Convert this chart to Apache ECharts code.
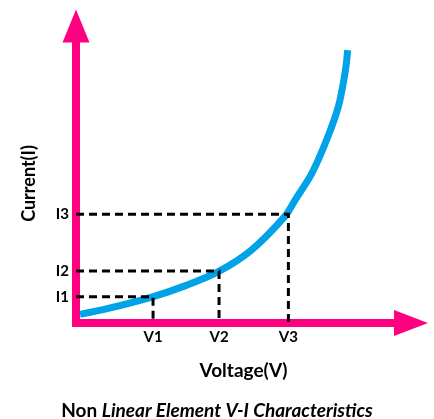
<!DOCTYPE html>
<html>
<head>
<meta charset="utf-8">
<script src="https://cdn.jsdelivr.net/npm/echarts@6/dist/echarts.min.js"></script>
<style>
  html, body { margin: 0; padding: 0; background: #fff; }
  #chart { width: 434px; height: 419px; }
</style>
</head>
<body>
<div id="chart"></div>
<script>
// V-I 曲线（读图估计值）
const voltage = [0.12, 0.96, 2.31, 3.25, 4.25, 5.24, 6.24, 6.54, 7.04, 7.48, 7.83, 8.03, 8.11];
const current = [0.29, 0.49, 0.89, 1.25, 1.73, 2.46, 3.60, 4.14, 5.04, 6.16, 7.28, 8.41, 9.19];

// 标注点
const markVoltage = [2.30, 4.27, 6.34];
const markCurrent = [0.88, 1.75, 3.66];
const voltageLabels = ['V1', 'V2', 'V3'];
const currentLabels = ['I1', 'I2', 'I3'];

const pink = '#ff0080';
const blue = '#00a2e8';
const font = 'Lato';

const chart = echarts.init(document.getElementById('chart'));

const curveData = voltage.map((v, i) => [v, current[i]]);

// 每个标注点一条虚线：从Y轴到点，再到X轴
const dashSeries = markVoltage.map((v, i) => ({
    type: 'line',
    data: [[0, markCurrent[i]], [v, markCurrent[i]], [v, 0]],
    symbol: 'none',
    silent: true,
    lineStyle: { color: '#000', width: 3, type: [8, 5], join: 'miter' }
}));

const option = {
    animation: false,
    grid: { left: 76, right: 23, top: 26, bottom: 96, outerBoundsMode: 'none' },
    title: {
        text: '{n|Non }{i|Linear Element V-I Characteristics}',
        left: 'center',
        top: 396,
        textStyle: {
            rich: {
                n: { fontFamily: font, fontWeight: 'bold', fontSize: 19, color: '#000' },
                i: { fontFamily: font, fontWeight: 'bold', fontStyle: 'italic', fontSize: 19, color: '#000' }
            }
        }
    },
    xAxis: {
        type: 'value',
        min: 0,
        max: 10,
        z: 3,
        name: 'Voltage(V)',
        nameLocation: 'middle',
        nameGap: 38,
        nameTextStyle: { fontFamily: font, fontWeight: 'bold', fontSize: 19, color: '#000' },
        splitLine: { show: false },
        axisTick: { show: false },
        axisLine: {
            show: true,
            symbol: ['none', 'triangle'],
            symbolSize: [26, 34],
            lineStyle: { color: pink, width: 8, cap: 'square' }
        },
        axisLabel: {
            customValues: markVoltage,
            margin: 7,
            fontFamily: font,
            fontWeight: 'bold',
            fontSize: 15,
            color: '#000',
            formatter: v => voltageLabels[markVoltage.indexOf(v)]
        }
    },
    yAxis: {
        type: 'value',
        min: 0,
        max: 10,
        z: 3,
        name: 'Current(I)',
        nameLocation: 'middle',
        nameRotate: 90,
        nameGap: 38,
        nameTextStyle: {
            fontFamily: font, fontWeight: 'bold', fontSize: 18, color: '#000',
            padding: [0, 18, 0, 0]
        },
        splitLine: { show: false },
        axisTick: { show: false },
        axisLine: {
            show: true,
            symbol: ['none', 'triangle'],
            symbolSize: [27, 33],
            lineStyle: { color: pink, width: 8, cap: 'square' }
        },
        axisLabel: {
            customValues: markCurrent,
            margin: 7,
            fontFamily: font,
            fontWeight: 'bold',
            fontSize: 15,
            color: '#000',
            formatter: v => currentLabels[markCurrent.indexOf(v)]
        }
    },
    series: [
        {
            type: 'line',
            data: curveData,
            smooth: 0.3,
            symbol: 'none',
            lineStyle: { color: blue, width: 7 }
        },
        ...dashSeries
    ]
};

chart.setOption(option);
</script>
</body>
</html>
